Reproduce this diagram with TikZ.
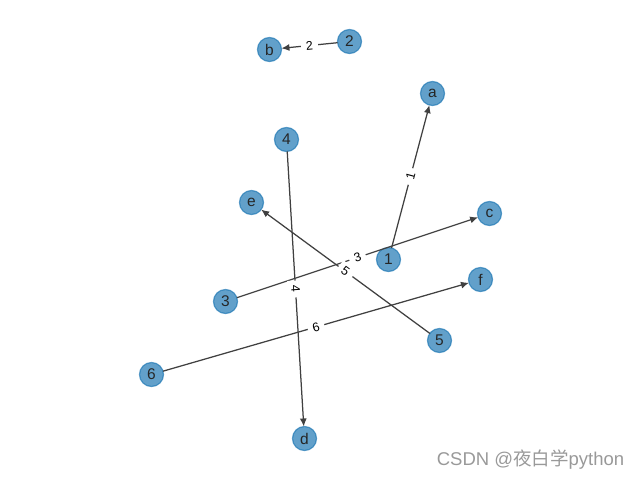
\documentclass[tikz,border=0pt]{standalone}
\usepackage{fontspec}
\setmainfont{Liberation Sans}
\newfontfamily\cjk{Noto Sans CJK SC}
\usetikzlibrary{arrows.meta}
\definecolor{nodeblue}{HTML}{1F78B4}
\tikzset{
    vertex/.style={circle, minimum size=24pt, inner sep=0pt, outer sep=0pt, draw=nodeblue, draw opacity=0.7, line width=1.2pt, fill=nodeblue, fill opacity=0.7, text opacity=1, text=black!85, font=\fontsize{15.5}{15.5}\selectfont},
    edge/.style={black!75, line width=1.25pt, -{Latex[length=8pt,width=7pt]}},
    edgelabel/.style={fill=white, sloped, inner xsep=5pt, inner ysep=3.5pt, text=black, font=\fontsize{12.5}{12.5}\selectfont}
}
\begin{document}
\begin{tikzpicture}[x=1pt, y=-1pt]
\useasboundingbox (0,0) rectangle (640,480);

\foreach \name/\x/\y in {a/432.5/93.5, b/269.5/49.5, c/489.5/213.5, d/304.5/438.5, e/251.5/202.5, f/480.5/279.5, 1/388.5/259.5, 2/349.5/41.5, 3/225.5/301.5, 4/286.5/139.5, 5/439.5/340.5, 6/151.5/374.5} {
        \node[vertex] (\name) at (\x,\y) {\name};
 }

\foreach \from/\to in {1/a, 2/b, 3/c, 4/d, 5/e, 6/f} {
        \draw[edge] (\from) -- (\to);
 }

\foreach \from/\to in {1/a, 2/b, 3/c, 4/d, 5/e, 6/f} {
        \path (\from) -- node[edgelabel] {\from} (\to);
 }

\node[text=black!40, font=\fontsize{18.5}{18.5}\selectfont] (mark) at (530.5,460) {CSDN @{\cjk 夜白学}python};
\end{tikzpicture}
\end{document}
